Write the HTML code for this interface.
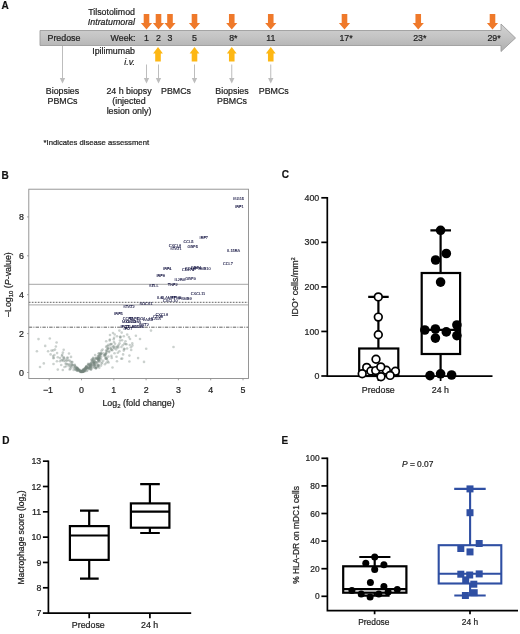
<!DOCTYPE html>
<html lang="en"><head><meta charset="utf-8"><title>Figure</title>
<style>html,body{margin:0;padding:0;background:#fff;}body{width:520px;height:634px;overflow:hidden;}svg{display:block;}text{font-family:"Liberation Sans", Arial, Helvetica, sans-serif;fill:#1f1f1f;stroke:#1f1f1f;stroke-width:0.22px;}.t{font-size:8.85px;}.s{font-size:7.7px;}.b{font-size:10px;font-weight:bold;fill:#111;}.g text{font-size:3.9px;fill:#10103e;text-rendering:geometricPrecision;stroke:#10103e;stroke-width:0.1px;}.m{text-anchor:middle;}.e{text-anchor:end;}.i{font-style:italic;}</style></head><body>
<svg width="520" height="634" viewBox="0 0 520 634">
<defs><linearGradient id="bar" x1="0" y1="0" x2="0" y2="1"><stop offset="0" stop-color="#d3d3d3"/><stop offset="0.5" stop-color="#c3c3c3"/><stop offset="1" stop-color="#adadad"/></linearGradient></defs>
<rect width="520" height="634" fill="#fff"/>
<g id="panelA">
<text class="b" x="1.6" y="9">A</text>
<path d="M40,30.5 H501 V24 L515.5,38 L501,51.5 V45.5 H40 Z" fill="url(#bar)" stroke="#9c9c9c" stroke-width="0.9"/>
<text class="t e" x="135" y="14.5">Tilsotolimod</text>
<text class="t e i" x="135" y="25">Intratumoral</text>
<text class="t" x="47.5" y="40.7">Predose</text>
<text class="t e" x="135.5" y="40.7">Week:</text>
<text class="t e" x="135" y="54.3">Ipilimumab</text>
<text class="t e i" x="135" y="64.5">i.v.</text>
<text class="t m" x="146.5" y="40.7">1</text>
<text class="t m" x="158.5" y="40.7">2</text>
<text class="t m" x="170" y="40.7">3</text>
<text class="t m" x="194.5" y="40.7">5</text>
<text class="t m" x="233.35" y="40.7">8*</text>
<text class="t m" x="270.75" y="40.7">11</text>
<text class="t m" x="346.1" y="40.7">17*</text>
<text class="t m" x="419.85" y="40.7">23*</text>
<text class="t m" x="494.1" y="40.7">29*</text>
<path d="M143.7,13.9 h5.6 v9 h2.8 l-5.6,6.7 l-5.6,-6.7 h2.8 z" fill="#ef792a"/>
<path d="M155.7,13.9 h5.6 v9 h2.8 l-5.6,6.7 l-5.6,-6.7 h2.8 z" fill="#ef792a"/>
<path d="M167.2,13.9 h5.6 v9 h2.8 l-5.6,6.7 l-5.6,-6.7 h2.8 z" fill="#ef792a"/>
<path d="M191.7,13.9 h5.6 v9 h2.8 l-5.6,6.7 l-5.6,-6.7 h2.8 z" fill="#ef792a"/>
<path d="M228.95,13.9 h5.6 v9 h2.8 l-5.6,6.7 l-5.6,-6.7 h2.8 z" fill="#ef792a"/>
<path d="M267.95,13.9 h5.6 v9 h2.8 l-5.6,6.7 l-5.6,-6.7 h2.8 z" fill="#ef792a"/>
<path d="M341.7,13.9 h5.6 v9 h2.8 l-5.6,6.7 l-5.6,-6.7 h2.8 z" fill="#ef792a"/>
<path d="M415.45,13.9 h5.6 v9 h2.8 l-5.6,6.7 l-5.6,-6.7 h2.8 z" fill="#ef792a"/>
<path d="M489.7,13.9 h5.6 v9 h2.8 l-5.6,6.7 l-5.6,-6.7 h2.8 z" fill="#ef792a"/>
<path d="M158,47 l4.9,6.4 h-2.1 v8 h-5.6 v-8 h-2.1 z" fill="#fdb714"/>
<path d="M194.5,47 l4.9,6.4 h-2.1 v8 h-5.6 v-8 h-2.1 z" fill="#fdb714"/>
<path d="M231.75,47 l4.9,6.4 h-2.1 v8 h-5.6 v-8 h-2.1 z" fill="#fdb714"/>
<path d="M270.75,47 l4.9,6.4 h-2.1 v8 h-5.6 v-8 h-2.1 z" fill="#fdb714"/>
<path d="M62.5,46 V80.5" stroke="#bdbdbd" stroke-width="1" fill="none"/>
<path d="M62.5,83.5 l2.7,-5.5 h-5.4 z" fill="#bdbdbd"/>
<path d="M146.5,64.5 V80.5" stroke="#bdbdbd" stroke-width="1" fill="none"/>
<path d="M146.5,83.5 l2.7,-5.5 h-5.4 z" fill="#bdbdbd"/>
<path d="M158.5,64.5 V80.5" stroke="#bdbdbd" stroke-width="1" fill="none"/>
<path d="M158.5,83.5 l2.7,-5.5 h-5.4 z" fill="#bdbdbd"/>
<path d="M194.5,64.5 V80.5" stroke="#bdbdbd" stroke-width="1" fill="none"/>
<path d="M194.5,83.5 l2.7,-5.5 h-5.4 z" fill="#bdbdbd"/>
<path d="M231.75,64.5 V80.5" stroke="#bdbdbd" stroke-width="1" fill="none"/>
<path d="M231.75,83.5 l2.7,-5.5 h-5.4 z" fill="#bdbdbd"/>
<path d="M270.75,64.5 V80.5" stroke="#bdbdbd" stroke-width="1" fill="none"/>
<path d="M270.75,83.5 l2.7,-5.5 h-5.4 z" fill="#bdbdbd"/>
<text class="t m" x="62.5" y="93.8">Biopsies</text>
<text class="t m" x="62.5" y="103.8">PBMCs</text>
<text class="t m" x="129" y="93.8">24 h biopsy</text>
<text class="t m" x="129" y="103.8">(injected</text>
<text class="t m" x="129" y="113.8">lesion only)</text>
<text class="t m" x="176" y="93.8">PBMCs</text>
<text class="t m" x="232" y="93.8">Biopsies</text>
<text class="t m" x="232" y="103.8">PBMCs</text>
<text class="t m" x="273.75" y="93.8">PBMCs</text>
<text class="s" x="43.5" y="144.5">*Indicates disease assessment</text>
</g>
<g id="panelB">
<text class="b" x="1.5" y="178.8">B</text>
<g fill="#75857f" fill-opacity="0.38">
<circle cx="70.2" cy="364.1" r="1.3"/>
<circle cx="111.4" cy="349.4" r="1.3"/>
<circle cx="110.6" cy="344.6" r="1.3"/>
<circle cx="86.5" cy="366.6" r="1.3"/>
<circle cx="99.3" cy="367.8" r="1.3"/>
<circle cx="112.3" cy="350.3" r="1.3"/>
<circle cx="61.9" cy="355.9" r="1.3"/>
<circle cx="66.5" cy="363.7" r="1.3"/>
<circle cx="83.8" cy="371.2" r="1.3"/>
<circle cx="89.5" cy="366.5" r="1.3"/>
<circle cx="106.5" cy="358.6" r="1.3"/>
<circle cx="79.2" cy="370.1" r="1.3"/>
<circle cx="97.0" cy="362.9" r="1.3"/>
<circle cx="94.8" cy="360.1" r="1.3"/>
<circle cx="131.0" cy="347.3" r="1.3"/>
<circle cx="107.7" cy="348.6" r="1.3"/>
<circle cx="105.3" cy="358.4" r="1.3"/>
<circle cx="113.7" cy="339.2" r="1.3"/>
<circle cx="91.5" cy="363.6" r="1.3"/>
<circle cx="132.3" cy="343.4" r="1.3"/>
<circle cx="75.1" cy="369.3" r="1.3"/>
<circle cx="98.3" cy="358.6" r="1.3"/>
<circle cx="99.5" cy="358.2" r="1.3"/>
<circle cx="126.2" cy="328.4" r="1.3"/>
<circle cx="88.0" cy="364.9" r="1.3"/>
<circle cx="99.7" cy="356.4" r="1.3"/>
<circle cx="114.7" cy="334.5" r="1.3"/>
<circle cx="110.6" cy="344.0" r="1.3"/>
<circle cx="111.4" cy="355.9" r="1.3"/>
<circle cx="61.5" cy="360.2" r="1.3"/>
<circle cx="108.4" cy="356.6" r="1.3"/>
<circle cx="102.2" cy="362.5" r="1.3"/>
<circle cx="68.1" cy="360.3" r="1.3"/>
<circle cx="98.2" cy="365.9" r="1.3"/>
<circle cx="91.5" cy="360.1" r="1.3"/>
<circle cx="90.7" cy="363.2" r="1.3"/>
<circle cx="94.5" cy="358.6" r="1.3"/>
<circle cx="86.1" cy="366.5" r="1.3"/>
<circle cx="74.8" cy="364.9" r="1.3"/>
<circle cx="65.7" cy="359.5" r="1.3"/>
<circle cx="77.9" cy="369.1" r="1.3"/>
<circle cx="106.1" cy="346.9" r="1.3"/>
<circle cx="86.0" cy="368.3" r="1.3"/>
<circle cx="120.1" cy="336.8" r="1.3"/>
<circle cx="91.6" cy="366.7" r="1.3"/>
<circle cx="71.8" cy="362.1" r="1.3"/>
<circle cx="90.2" cy="365.0" r="1.3"/>
<circle cx="96.4" cy="358.7" r="1.3"/>
<circle cx="98.9" cy="357.7" r="1.3"/>
<circle cx="102.6" cy="349.6" r="1.3"/>
<circle cx="78.2" cy="369.9" r="1.3"/>
<circle cx="100.8" cy="353.0" r="1.3"/>
<circle cx="53.4" cy="358.2" r="1.3"/>
<circle cx="98.6" cy="359.5" r="1.3"/>
<circle cx="76.9" cy="368.0" r="1.3"/>
<circle cx="91.2" cy="369.3" r="1.3"/>
<circle cx="83.1" cy="370.1" r="1.3"/>
<circle cx="95.8" cy="368.4" r="1.3"/>
<circle cx="104.9" cy="364.3" r="1.3"/>
<circle cx="76.5" cy="367.7" r="1.3"/>
<circle cx="53.7" cy="357.6" r="1.3"/>
<circle cx="94.6" cy="365.8" r="1.3"/>
<circle cx="86.1" cy="368.4" r="1.3"/>
<circle cx="69.6" cy="360.6" r="1.3"/>
<circle cx="93.1" cy="362.1" r="1.3"/>
<circle cx="98.9" cy="353.5" r="1.3"/>
<circle cx="74.5" cy="365.3" r="1.3"/>
<circle cx="103.2" cy="360.8" r="1.3"/>
<circle cx="83.3" cy="369.7" r="1.3"/>
<circle cx="95.1" cy="355.1" r="1.3"/>
<circle cx="62.9" cy="352.6" r="1.3"/>
<circle cx="103.9" cy="355.6" r="1.3"/>
<circle cx="80.2" cy="372.0" r="1.3"/>
<circle cx="83.0" cy="371.1" r="1.3"/>
<circle cx="120.3" cy="337.7" r="1.3"/>
<circle cx="99.9" cy="358.2" r="1.3"/>
<circle cx="93.8" cy="363.1" r="1.3"/>
<circle cx="82.1" cy="371.0" r="1.3"/>
<circle cx="98.3" cy="360.6" r="1.3"/>
<circle cx="92.1" cy="361.2" r="1.3"/>
<circle cx="84.5" cy="370.2" r="1.3"/>
<circle cx="84.1" cy="370.9" r="1.3"/>
<circle cx="84.6" cy="368.8" r="1.3"/>
<circle cx="81.5" cy="371.8" r="1.3"/>
<circle cx="84.3" cy="369.3" r="1.3"/>
<circle cx="93.2" cy="359.8" r="1.3"/>
<circle cx="113.6" cy="346.2" r="1.3"/>
<circle cx="84.5" cy="371.5" r="1.3"/>
<circle cx="97.8" cy="361.8" r="1.3"/>
<circle cx="111.5" cy="349.9" r="1.3"/>
<circle cx="87.9" cy="367.6" r="1.3"/>
<circle cx="77.3" cy="370.0" r="1.3"/>
<circle cx="93.8" cy="362.3" r="1.3"/>
<circle cx="99.8" cy="361.6" r="1.3"/>
<circle cx="86.4" cy="368.2" r="1.3"/>
<circle cx="82.9" cy="371.2" r="1.3"/>
<circle cx="94.5" cy="363.4" r="1.3"/>
<circle cx="80.7" cy="371.3" r="1.3"/>
<circle cx="89.0" cy="364.2" r="1.3"/>
<circle cx="86.5" cy="366.9" r="1.3"/>
<circle cx="117.0" cy="361.3" r="1.3"/>
<circle cx="71.4" cy="367.5" r="1.3"/>
<circle cx="91.9" cy="359.4" r="1.3"/>
<circle cx="109.9" cy="339.5" r="1.3"/>
<circle cx="93.8" cy="363.0" r="1.3"/>
<circle cx="86.5" cy="370.9" r="1.3"/>
<circle cx="94.4" cy="363.4" r="1.3"/>
<circle cx="90.9" cy="369.7" r="1.3"/>
<circle cx="108.4" cy="344.8" r="1.3"/>
<circle cx="77.8" cy="369.2" r="1.3"/>
<circle cx="114.1" cy="337.8" r="1.3"/>
<circle cx="87.1" cy="367.5" r="1.3"/>
<circle cx="111.8" cy="344.0" r="1.3"/>
<circle cx="89.4" cy="368.9" r="1.3"/>
<circle cx="122.8" cy="345.2" r="1.3"/>
<circle cx="72.4" cy="362.1" r="1.3"/>
<circle cx="76.6" cy="368.0" r="1.3"/>
<circle cx="85.0" cy="369.3" r="1.3"/>
<circle cx="64.5" cy="367.0" r="1.3"/>
<circle cx="72.2" cy="365.8" r="1.3"/>
<circle cx="90.9" cy="368.6" r="1.3"/>
<circle cx="119.5" cy="343.4" r="1.3"/>
<circle cx="84.1" cy="370.3" r="1.3"/>
<circle cx="82.6" cy="370.0" r="1.3"/>
<circle cx="105.4" cy="354.9" r="1.3"/>
<circle cx="84.1" cy="370.6" r="1.3"/>
<circle cx="68.6" cy="364.7" r="1.3"/>
<circle cx="77.5" cy="368.3" r="1.3"/>
<circle cx="87.3" cy="370.5" r="1.3"/>
<circle cx="101.5" cy="350.7" r="1.3"/>
<circle cx="87.9" cy="365.2" r="1.3"/>
<circle cx="116.2" cy="346.7" r="1.3"/>
<circle cx="98.7" cy="353.6" r="1.3"/>
<circle cx="85.2" cy="368.2" r="1.3"/>
<circle cx="82.2" cy="371.8" r="1.3"/>
<circle cx="89.3" cy="368.8" r="1.3"/>
<circle cx="67.8" cy="364.2" r="1.3"/>
<circle cx="74.8" cy="367.1" r="1.3"/>
<circle cx="123.9" cy="348.9" r="1.3"/>
<circle cx="111.1" cy="347.5" r="1.3"/>
<circle cx="80.6" cy="371.4" r="1.3"/>
<circle cx="70.7" cy="366.4" r="1.3"/>
<circle cx="88.2" cy="363.7" r="1.3"/>
<circle cx="92.9" cy="364.5" r="1.3"/>
<circle cx="83.1" cy="371.7" r="1.3"/>
<circle cx="106.6" cy="351.4" r="1.3"/>
<circle cx="121.4" cy="347.0" r="1.3"/>
<circle cx="127.2" cy="334.6" r="1.3"/>
<circle cx="89.1" cy="367.7" r="1.3"/>
<circle cx="93.1" cy="357.8" r="1.3"/>
<circle cx="79.6" cy="369.7" r="1.3"/>
<circle cx="117.0" cy="336.2" r="1.3"/>
<circle cx="90.8" cy="365.5" r="1.3"/>
<circle cx="76.7" cy="370.5" r="1.3"/>
<circle cx="106.2" cy="350.3" r="1.3"/>
<circle cx="86.3" cy="367.9" r="1.3"/>
<circle cx="83.1" cy="371.0" r="1.3"/>
<circle cx="118.0" cy="346.2" r="1.3"/>
<circle cx="92.0" cy="364.9" r="1.3"/>
<circle cx="116.2" cy="349.4" r="1.3"/>
<circle cx="78.8" cy="370.2" r="1.3"/>
<circle cx="94.3" cy="361.9" r="1.3"/>
<circle cx="99.7" cy="355.5" r="1.3"/>
<circle cx="98.1" cy="359.5" r="1.3"/>
<circle cx="108.6" cy="362.5" r="1.3"/>
<circle cx="106.4" cy="362.7" r="1.3"/>
<circle cx="108.0" cy="348.4" r="1.3"/>
<circle cx="81.5" cy="372.1" r="1.3"/>
<circle cx="63.5" cy="360.9" r="1.3"/>
<circle cx="109.2" cy="351.2" r="1.3"/>
<circle cx="83.8" cy="369.9" r="1.3"/>
<circle cx="97.9" cy="356.1" r="1.3"/>
<circle cx="103.3" cy="353.4" r="1.3"/>
<circle cx="65.3" cy="361.2" r="1.3"/>
<circle cx="80.8" cy="371.4" r="1.3"/>
<circle cx="117.0" cy="347.5" r="1.3"/>
<circle cx="110.2" cy="348.5" r="1.3"/>
<circle cx="105.2" cy="354.3" r="1.3"/>
<circle cx="117.8" cy="352.7" r="1.3"/>
<circle cx="90.1" cy="366.8" r="1.3"/>
<circle cx="120.6" cy="336.7" r="1.3"/>
<circle cx="104.9" cy="355.4" r="1.3"/>
<circle cx="118.3" cy="347.5" r="1.3"/>
<circle cx="77.3" cy="368.6" r="1.3"/>
<circle cx="98.8" cy="360.2" r="1.3"/>
<circle cx="84.9" cy="368.0" r="1.3"/>
<circle cx="101.4" cy="353.6" r="1.3"/>
<circle cx="97.2" cy="364.8" r="1.3"/>
<circle cx="98.1" cy="358.7" r="1.3"/>
<circle cx="53.2" cy="350.4" r="1.3"/>
<circle cx="121.7" cy="332.6" r="1.3"/>
<circle cx="98.0" cy="365.5" r="1.3"/>
<circle cx="71.7" cy="364.7" r="1.3"/>
<circle cx="95.7" cy="362.3" r="1.3"/>
<circle cx="93.5" cy="366.0" r="1.3"/>
<circle cx="108.5" cy="346.1" r="1.3"/>
<circle cx="107.8" cy="348.8" r="1.3"/>
<circle cx="125.5" cy="341.2" r="1.3"/>
<circle cx="97.0" cy="359.0" r="1.3"/>
<circle cx="89.1" cy="367.6" r="1.3"/>
<circle cx="132.4" cy="345.6" r="1.3"/>
<circle cx="79.0" cy="370.2" r="1.3"/>
<circle cx="84.0" cy="369.8" r="1.3"/>
<circle cx="87.6" cy="368.2" r="1.3"/>
<circle cx="105.6" cy="357.1" r="1.3"/>
<circle cx="107.8" cy="361.4" r="1.3"/>
<circle cx="94.6" cy="361.4" r="1.3"/>
<circle cx="116.5" cy="356.8" r="1.3"/>
<circle cx="91.1" cy="364.9" r="1.3"/>
<circle cx="86.4" cy="367.3" r="1.3"/>
<circle cx="96.5" cy="367.8" r="1.3"/>
<circle cx="101.1" cy="353.7" r="1.3"/>
<circle cx="107.1" cy="350.7" r="1.3"/>
<circle cx="99.1" cy="355.7" r="1.3"/>
<circle cx="98.3" cy="356.4" r="1.3"/>
<circle cx="77.5" cy="368.9" r="1.3"/>
<circle cx="105.8" cy="354.1" r="1.3"/>
<circle cx="127.1" cy="348.5" r="1.3"/>
<circle cx="97.4" cy="358.6" r="1.3"/>
<circle cx="72.0" cy="364.3" r="1.3"/>
<circle cx="82.9" cy="369.9" r="1.3"/>
<circle cx="63.6" cy="357.3" r="1.3"/>
<circle cx="106.9" cy="346.0" r="1.3"/>
<circle cx="106.9" cy="359.3" r="1.3"/>
<circle cx="81.2" cy="371.7" r="1.3"/>
<circle cx="73.6" cy="369.9" r="1.3"/>
<circle cx="124.3" cy="343.6" r="1.3"/>
<circle cx="84.2" cy="370.4" r="1.3"/>
<circle cx="82.5" cy="372.0" r="1.3"/>
<circle cx="80.8" cy="371.3" r="1.3"/>
<circle cx="90.8" cy="364.5" r="1.3"/>
<circle cx="63.7" cy="349.8" r="1.3"/>
<circle cx="63.7" cy="358.7" r="1.3"/>
<circle cx="75.3" cy="366.5" r="1.3"/>
<circle cx="101.0" cy="365.6" r="1.3"/>
<circle cx="57.1" cy="353.1" r="1.3"/>
<circle cx="75.6" cy="369.8" r="1.3"/>
<circle cx="99.1" cy="359.7" r="1.3"/>
<circle cx="95.1" cy="364.7" r="1.3"/>
<circle cx="101.6" cy="363.6" r="1.3"/>
<circle cx="67.9" cy="357.7" r="1.3"/>
<circle cx="100.4" cy="354.2" r="1.3"/>
<circle cx="113.7" cy="347.7" r="1.3"/>
<circle cx="88.4" cy="368.3" r="1.3"/>
<circle cx="85.6" cy="368.4" r="1.3"/>
<circle cx="77.1" cy="370.7" r="1.3"/>
<circle cx="118.5" cy="345.0" r="1.3"/>
<circle cx="124.6" cy="349.0" r="1.3"/>
<circle cx="78.7" cy="369.6" r="1.3"/>
<circle cx="95.1" cy="365.2" r="1.3"/>
<circle cx="86.7" cy="367.7" r="1.3"/>
<circle cx="126.5" cy="344.2" r="1.3"/>
<circle cx="111.7" cy="357.9" r="1.3"/>
<circle cx="76.5" cy="369.1" r="1.3"/>
<circle cx="90.0" cy="367.5" r="1.3"/>
<circle cx="92.4" cy="361.8" r="1.3"/>
<circle cx="73.1" cy="365.1" r="1.3"/>
<circle cx="89.6" cy="365.1" r="1.3"/>
<circle cx="94.5" cy="367.8" r="1.3"/>
<circle cx="81.0" cy="371.5" r="1.3"/>
<circle cx="94.2" cy="365.2" r="1.3"/>
<circle cx="93.9" cy="364.0" r="1.3"/>
<circle cx="106.5" cy="352.9" r="1.3"/>
<circle cx="77.1" cy="367.6" r="1.3"/>
<circle cx="86.1" cy="366.9" r="1.3"/>
<circle cx="113.4" cy="346.5" r="1.3"/>
<circle cx="89.4" cy="364.4" r="1.3"/>
<circle cx="90.7" cy="367.0" r="1.3"/>
<circle cx="105.8" cy="353.0" r="1.3"/>
<circle cx="69.5" cy="366.4" r="1.3"/>
<circle cx="90.2" cy="365.9" r="1.3"/>
<circle cx="92.0" cy="367.8" r="1.3"/>
<circle cx="77.6" cy="368.8" r="1.3"/>
<circle cx="96.1" cy="367.4" r="1.3"/>
<circle cx="106.6" cy="357.8" r="1.3"/>
<circle cx="84.7" cy="370.9" r="1.3"/>
<circle cx="96.5" cy="357.8" r="1.3"/>
<circle cx="82.9" cy="371.2" r="1.3"/>
<circle cx="93.1" cy="358.5" r="1.3"/>
<circle cx="97.8" cy="366.8" r="1.3"/>
<circle cx="135.9" cy="335.8" r="1.3"/>
<circle cx="98.3" cy="357.5" r="1.3"/>
<circle cx="99.0" cy="361.2" r="1.3"/>
<circle cx="96.0" cy="362.4" r="1.3"/>
<circle cx="98.8" cy="365.9" r="1.3"/>
<circle cx="75.6" cy="366.9" r="1.3"/>
<circle cx="100.2" cy="353.6" r="1.3"/>
<circle cx="125.6" cy="344.0" r="1.3"/>
<circle cx="114.4" cy="348.4" r="1.3"/>
<circle cx="82.3" cy="371.2" r="1.3"/>
<circle cx="94.4" cy="367.3" r="1.3"/>
<circle cx="83.0" cy="371.5" r="1.3"/>
<circle cx="92.7" cy="360.0" r="1.3"/>
<circle cx="85.5" cy="370.1" r="1.3"/>
<circle cx="100.6" cy="355.4" r="1.3"/>
<circle cx="90.4" cy="366.5" r="1.3"/>
<circle cx="114.0" cy="342.0" r="1.3"/>
<circle cx="83.1" cy="371.6" r="1.3"/>
<circle cx="96.0" cy="368.1" r="1.3"/>
<circle cx="82.1" cy="371.5" r="1.3"/>
<circle cx="84.9" cy="369.1" r="1.3"/>
<circle cx="93.9" cy="361.3" r="1.3"/>
<circle cx="76.1" cy="369.2" r="1.3"/>
<circle cx="122.2" cy="358.6" r="1.3"/>
<circle cx="91.1" cy="362.8" r="1.3"/>
<circle cx="86.1" cy="367.4" r="1.3"/>
<circle cx="109.7" cy="340.4" r="1.3"/>
<circle cx="80.1" cy="371.3" r="1.3"/>
<circle cx="104.7" cy="355.0" r="1.3"/>
<circle cx="86.4" cy="368.6" r="1.3"/>
<circle cx="98.7" cy="364.7" r="1.3"/>
<circle cx="122.1" cy="340.3" r="1.3"/>
<circle cx="70.4" cy="368.9" r="1.3"/>
<circle cx="109.1" cy="352.1" r="1.3"/>
<circle cx="73.9" cy="367.8" r="1.3"/>
<circle cx="101.2" cy="357.1" r="1.3"/>
<circle cx="128.9" cy="337.1" r="1.3"/>
<circle cx="64.0" cy="357.7" r="1.3"/>
<circle cx="79.1" cy="370.0" r="1.3"/>
<circle cx="96.0" cy="358.0" r="1.3"/>
<circle cx="78.2" cy="370.9" r="1.3"/>
<circle cx="101.0" cy="359.5" r="1.3"/>
<circle cx="114.5" cy="353.3" r="1.3"/>
<circle cx="106.2" cy="358.8" r="1.3"/>
<circle cx="66.9" cy="360.6" r="1.3"/>
<circle cx="62.5" cy="360.1" r="1.3"/>
<circle cx="70.7" cy="361.8" r="1.3"/>
<circle cx="80.5" cy="370.6" r="1.3"/>
<circle cx="98.9" cy="358.2" r="1.3"/>
<circle cx="79.8" cy="370.8" r="1.3"/>
<circle cx="38.5" cy="339.1" r="1.3"/>
<circle cx="49.8" cy="338.5" r="1.3"/>
<circle cx="56.6" cy="342.5" r="1.3"/>
<circle cx="45.2" cy="345.9" r="1.3"/>
<circle cx="55.9" cy="346.5" r="1.3"/>
<circle cx="36.9" cy="351.2" r="1.3"/>
<circle cx="48.1" cy="351.2" r="1.3"/>
<circle cx="51.5" cy="350.6" r="1.3"/>
<circle cx="55.0" cy="349.6" r="1.3"/>
<circle cx="50.6" cy="354.4" r="1.3"/>
<circle cx="53.1" cy="356.0" r="1.3"/>
<circle cx="54.4" cy="355.0" r="1.3"/>
<circle cx="69.0" cy="353.5" r="1.3"/>
<circle cx="62.2" cy="354.8" r="1.3"/>
<circle cx="67.1" cy="357.8" r="1.3"/>
<circle cx="71.0" cy="356.9" r="1.3"/>
<circle cx="57.8" cy="357.2" r="1.3"/>
<circle cx="60.0" cy="358.1" r="1.3"/>
<circle cx="43.8" cy="363.4" r="1.3"/>
<circle cx="53.5" cy="364.0" r="1.3"/>
<circle cx="56.9" cy="361.2" r="1.3"/>
<circle cx="60.0" cy="361.2" r="1.3"/>
<circle cx="61.2" cy="365.0" r="1.3"/>
<circle cx="57.8" cy="369.6" r="1.3"/>
<circle cx="62.8" cy="370.0" r="1.3"/>
<circle cx="65.6" cy="363.8" r="1.3"/>
<circle cx="66.2" cy="366.2" r="1.3"/>
<circle cx="69.6" cy="369.4" r="1.3"/>
<circle cx="130.0" cy="339.0" r="1.3"/>
<circle cx="140.0" cy="339.0" r="1.3"/>
<circle cx="129.8" cy="345.0" r="1.3"/>
<circle cx="146.2" cy="348.8" r="1.3"/>
<circle cx="131.2" cy="350.0" r="1.3"/>
<circle cx="123.8" cy="350.6" r="1.3"/>
<circle cx="119.4" cy="351.2" r="1.3"/>
<circle cx="123.1" cy="354.4" r="1.3"/>
<circle cx="129.4" cy="355.6" r="1.3"/>
<circle cx="138.1" cy="358.1" r="1.3"/>
<circle cx="121.2" cy="358.8" r="1.3"/>
<circle cx="129.4" cy="361.5" r="1.3"/>
<circle cx="144.0" cy="361.9" r="1.3"/>
<circle cx="112.5" cy="367.5" r="1.3"/>
<circle cx="151.0" cy="330.6" r="1.3"/>
<circle cx="119.4" cy="330.6" r="1.3"/>
<circle cx="123.8" cy="336.2" r="1.3"/>
<circle cx="120.0" cy="340.6" r="1.3"/>
<circle cx="113.0" cy="333.0" r="1.3"/>
<circle cx="110.0" cy="335.0" r="1.3"/>
<circle cx="106.2" cy="341.2" r="1.3"/>
<circle cx="115.0" cy="343.8" r="1.3"/>
<circle cx="173.5" cy="347.0" r="1.3"/>
<circle cx="40.0" cy="367.0" r="1.3"/>
</g>
<path d="M28.8,284.3 H248.5 M28.8,304.9 H248.5" stroke="#a6a6a6" stroke-width="1" fill="none"/>
<path d="M28.8,302.3 H248.5" stroke="#3a3a3a" stroke-width="0.8" stroke-dasharray="1.7 1.3" fill="none"/>
<path d="M28.8,327.2 H248.5" stroke="#3a3a3a" stroke-width="0.8" stroke-dasharray="3.4 1.2 1 1.2" fill="none"/>
<rect x="28.8" y="189.2" width="219.7" height="189.3" fill="none" stroke="#8c8c8c" stroke-width="0.9"/>
<path d="M28.8,372.5 h-1.8" stroke="#8c8c8c" stroke-width="0.8"/>
<text class="t e" x="24" y="375.5">0</text>
<path d="M28.8,333.6 h-1.8" stroke="#8c8c8c" stroke-width="0.8"/>
<text class="t e" x="24" y="336.6">2</text>
<path d="M28.8,294.7 h-1.8" stroke="#8c8c8c" stroke-width="0.8"/>
<text class="t e" x="24" y="297.7">4</text>
<path d="M28.8,255.8 h-1.8" stroke="#8c8c8c" stroke-width="0.8"/>
<text class="t e" x="24" y="258.8">6</text>
<path d="M28.8,216.9 h-1.8" stroke="#8c8c8c" stroke-width="0.8"/>
<text class="t e" x="24" y="219.9">8</text>
<path d="M49.2,378.5 v1.8" stroke="#8c8c8c" stroke-width="0.8"/>
<text class="t m" x="48" y="393.3">−1</text>
<path d="M81.5,378.5 v1.8" stroke="#8c8c8c" stroke-width="0.8"/>
<text class="t m" x="81.5" y="393.3">0</text>
<path d="M113.8,378.5 v1.8" stroke="#8c8c8c" stroke-width="0.8"/>
<text class="t m" x="113.8" y="393.3">1</text>
<path d="M146.1,378.5 v1.8" stroke="#8c8c8c" stroke-width="0.8"/>
<text class="t m" x="146.1" y="393.3">2</text>
<path d="M178.4,378.5 v1.8" stroke="#8c8c8c" stroke-width="0.8"/>
<text class="t m" x="178.4" y="393.3">3</text>
<path d="M210.7,378.5 v1.8" stroke="#8c8c8c" stroke-width="0.8"/>
<text class="t m" x="210.7" y="393.3">4</text>
<path d="M243,378.5 v1.8" stroke="#8c8c8c" stroke-width="0.8"/>
<text class="t m" x="243" y="393.3">5</text>
<text class="t m" transform="translate(11.3,284.6) rotate(-90)">–Log<tspan font-size="6" dy="1.6">10</tspan><tspan dy="-1.6"> (</tspan><tspan class="i">P</tspan>-value)</text>
<text class="t m" x="138.5" y="406.4">Log<tspan font-size="6" dy="1.6">2</tspan><tspan dy="-1.6"> (fold change)</tspan></text>
<g class="g m">
<text x="238.5" y="199.6">ISG15</text>
<text x="239.4" y="207.6">IRF1</text>
<text x="203.8" y="239">IRF7</text>
<text x="188.5" y="242.8">CCL5</text>
<text x="192.7" y="247.5">GBP5</text>
<text x="175" y="247.2">CXCL9</text>
<text x="176" y="249.6">STAT1</text>
<text x="233.7" y="252">IL15RA</text>
<text x="227.9" y="265.3">CCL7</text>
<text x="167.3" y="269.8">IRF4</text>
<text x="190" y="269.5">CCL8</text>
<text x="196" y="269.2">GBP4</text>
<text x="203" y="269.8">PSMB10</text>
<text x="188" y="270.6">CD274</text>
<text x="160.6" y="277.3">IRF8</text>
<text x="180" y="281.3">IL2RA</text>
<text x="190.5" y="279.6">GBP3</text>
<text x="153.8" y="286.6">SELL</text>
<text x="172.7" y="286.4">TNF2</text>
<text x="198" y="295.4">CXCL11</text>
<text x="160" y="299">IL6</text>
<text x="168" y="298.6">SLAMF7</text>
<text x="177" y="298.8">IFNG</text>
<text x="185" y="299.5">PSMB9</text>
<text x="170.4" y="302.2">CXCL10</text>
<text x="146" y="305.2">SOCS1</text>
<text x="129" y="307.8">STAT2</text>
<text x="118.5" y="314.6">IRF5</text>
<text x="161.8" y="316.2">CXCL9</text>
<text x="128" y="319.5">CCR5</text>
<text x="134" y="320.2">TAP1</text>
<text x="141" y="319.8">IDO1</text>
<text x="148" y="320.6">LAG3</text>
<text x="155" y="319.6">HLA-A</text>
<text x="158" y="318.4">CD38</text>
<text x="126" y="322.6">MX1</text>
<text x="131" y="323.2">OAS3</text>
<text x="136" y="322.8">CD8A</text>
<text x="125" y="327.5">IFIT1</text>
<text x="132" y="328">TLR3</text>
<text x="139" y="327.6">CD86</text>
<text x="144" y="326.4">BST2</text>
<text x="128" y="330">IFI27</text>
</g>
</g>
<g id="panelC">
<text class="b" x="281.8" y="178.3">C</text>
<path d="M327.3,197 V376.1 H492.5" stroke="#000" stroke-width="1.7" fill="none"/>
<path d="M327.3,376 h-6" stroke="#000" stroke-width="1.7"/>
<text class="t e" x="319.3" y="379.1">0</text>
<path d="M327.3,331.45 h-6" stroke="#000" stroke-width="1.7"/>
<text class="t e" x="319.3" y="334.55">100</text>
<path d="M327.3,286.9 h-6" stroke="#000" stroke-width="1.7"/>
<text class="t e" x="319.3" y="290">200</text>
<path d="M327.3,242.35 h-6" stroke="#000" stroke-width="1.7"/>
<text class="t e" x="319.3" y="245.45">300</text>
<path d="M327.3,197.8 h-6" stroke="#000" stroke-width="1.7"/>
<text class="t e" x="319.3" y="200.9">400</text>
<path d="M378.4,376 v5 M440.6,376 v5" stroke="#000" stroke-width="1.7"/>
<text class="t m" transform="translate(297.6,287) rotate(-90)">IDO<tspan font-size="5.8" dy="-3">+</tspan><tspan dy="3"> cells/mm</tspan><tspan font-size="5.8" dy="-3">2</tspan></text>
<text class="t m" x="378.3" y="393.2">Predose</text>
<text class="t m" x="440.4" y="393.2">24 h</text>
<g stroke="#000" stroke-width="2.2" fill="none">
<rect x="359.2" y="348.5" width="39.1" height="27.5"/>
<path d="M378.4,348.5 V297 M368.2,296.9 H388.7"/>
<rect x="421.7" y="273" width="38.4" height="81"/>
<path d="M440.6,273 V230.3 M430.4,230.3 H451 M440.6,354 V376 M421.7,329.8 H460.1"/>
</g>
<g stroke="#000" stroke-width="1.7" fill="#fff">
<circle cx="378.3" cy="296.9" r="3.85"/>
<circle cx="378.3" cy="317.1" r="3.85"/>
<circle cx="378.3" cy="334.8" r="3.85"/>
<circle cx="366.7" cy="367.4" r="3.85"/>
<circle cx="370.9" cy="371" r="3.85"/>
<circle cx="375.7" cy="370.6" r="3.85"/>
<circle cx="386.3" cy="370.3" r="3.85"/>
<circle cx="395.4" cy="371.3" r="3.85"/>
<circle cx="376" cy="359.2" r="3.85"/>
<circle cx="380.8" cy="366.9" r="3.85"/>
<circle cx="362.2" cy="373.8" r="3.85"/>
<circle cx="381" cy="376.7" r="3.85"/>
<circle cx="390.1" cy="375.4" r="3.85"/>
</g>
<g fill="#000">
<circle cx="440.6" cy="230.3" r="4.8"/>
<circle cx="446.3" cy="253.5" r="4.8"/>
<circle cx="435.6" cy="260" r="4.8"/>
<circle cx="440.6" cy="282.1" r="4.8"/>
<circle cx="424.8" cy="330" r="4.8"/>
<circle cx="435.4" cy="329" r="4.8"/>
<circle cx="435.4" cy="338.1" r="4.8"/>
<circle cx="446.3" cy="331.9" r="4.8"/>
<circle cx="456.9" cy="325" r="4.8"/>
<circle cx="456.9" cy="335.6" r="4.8"/>
<circle cx="430" cy="375.6" r="4.8"/>
<circle cx="440.6" cy="373.8" r="4.8"/>
<circle cx="451.6" cy="375" r="4.8"/>
</g>
</g>
<g id="panelD">
<text class="b" x="2.2" y="443.6">D</text>
<path d="M48.4,460.4 V613.1 H191.2" stroke="#000" stroke-width="1.7" fill="none"/>
<path d="M48.4,613.1 h-5.5" stroke="#000" stroke-width="1.7"/>
<text class="t e" x="41.3" y="616.2">7</text>
<path d="M48.4,587.78 h-5.5" stroke="#000" stroke-width="1.7"/>
<text class="t e" x="41.3" y="590.88">8</text>
<path d="M48.4,562.46 h-5.5" stroke="#000" stroke-width="1.7"/>
<text class="t e" x="41.3" y="565.56">9</text>
<path d="M48.4,537.14 h-5.5" stroke="#000" stroke-width="1.7"/>
<text class="t e" x="41.3" y="540.24">10</text>
<path d="M48.4,511.82 h-5.5" stroke="#000" stroke-width="1.7"/>
<text class="t e" x="41.3" y="514.92">11</text>
<path d="M48.4,486.5 h-5.5" stroke="#000" stroke-width="1.7"/>
<text class="t e" x="41.3" y="489.6">12</text>
<path d="M48.4,461.18 h-5.5" stroke="#000" stroke-width="1.7"/>
<text class="t e" x="41.3" y="464.28">13</text>
<path d="M89.2,613 v5.2 M149.9,613 v5.2" stroke="#000" stroke-width="1.7"/>
<text class="t m" style="font-size:8.6px" transform="translate(24.3,537.5) rotate(-90)">Macrophage score (log<tspan font-size="6" dy="1.6">2</tspan><tspan dy="-1.6">)</tspan></text>
<text class="t m" x="88.3" y="627.9">Predose</text>
<text class="t m" x="149.7" y="627.9">24 h</text>
<g stroke="#000" stroke-width="2.2" fill="none">
<rect x="69.9" y="526.1" width="38.8" height="33.8"/>
<path d="M69.9,535.5 H108.7 M89.2,526.1 V510.6 M80,510.6 H98.7 M89.2,559.9 V578.6 M80,578.6 H98.7"/>
<rect x="130.9" y="503.4" width="38.5" height="24.3"/>
<path d="M130.9,511.7 H169.4 M149.9,503.4 V484.2 M140.2,484.2 H159.8 M149.9,527.7 V533 M140.2,533 H159.8"/>
</g>
</g>
<g id="panelE" style="font-size:8.4px">
<text class="b" x="281.6" y="443.8">E</text>
<path d="M327.4,457.5 V610.7 H518" stroke="#000" stroke-width="1.7" fill="none"/>
<path d="M327.4,596.3 h-6" stroke="#000" stroke-width="1.7"/>
<text class="e" x="319.6" y="599.3">0</text>
<path d="M327.4,568.7 h-6" stroke="#000" stroke-width="1.7"/>
<text class="e" x="319.6" y="571.7">20</text>
<path d="M327.4,541.1 h-6" stroke="#000" stroke-width="1.7"/>
<text class="e" x="319.6" y="544.1">40</text>
<path d="M327.4,513.5 h-6" stroke="#000" stroke-width="1.7"/>
<text class="e" x="319.6" y="516.5">60</text>
<path d="M327.4,485.9 h-6" stroke="#000" stroke-width="1.7"/>
<text class="e" x="319.6" y="488.9">80</text>
<path d="M327.4,458.3 h-6" stroke="#000" stroke-width="1.7"/>
<text class="e" x="319.6" y="461.3">100</text>
<path d="M374.6,610.7 v3.6 M470,610.7 v3.6" stroke="#000" stroke-width="1.7"/>
<text class="m" transform="translate(298.6,535) rotate(-90)">% HLA-DR on mDC1 cells</text>
<text class="m" x="373.8" y="625.2">Predose</text>
<text class="m" x="470" y="625.2">24 h</text>
<text class="m" x="417.7" y="467"><tspan class="i">P</tspan> = 0.07</text>
<g stroke="#000" stroke-width="2.2" fill="none">
<rect x="343.2" y="566.3" width="63.2" height="26.4"/>
<path d="M343.2,589.1 H406.4 M374.7,566.3 V557 M359.3,557 H390.4 M374.7,592.7 V595.6 M358.8,595.6 H389.6"/>
</g>
<g fill="#000">
<circle cx="374.7" cy="557" r="3.5"/>
<circle cx="365.8" cy="563.2" r="3.5"/>
<circle cx="383.9" cy="564.7" r="3.5"/>
<circle cx="374.7" cy="569.6" r="3.5"/>
<circle cx="370.4" cy="582.4" r="3.5"/>
<circle cx="383.9" cy="586.5" r="3.5"/>
<circle cx="351.9" cy="590.4" r="3.5"/>
<circle cx="397.3" cy="589.6" r="3.5"/>
<circle cx="361.2" cy="593.9" r="3.5"/>
<circle cx="370.1" cy="597" r="3.5"/>
<circle cx="378.8" cy="593.9" r="3.5"/>
<circle cx="388.1" cy="591.9" r="3.5"/>
</g>
<g stroke="#2f4fa3" stroke-width="2.1" fill="none">
<rect x="438.7" y="545.2" width="62.6" height="38.3"/>
<path d="M438.7,573.8 H501.3 M470.1,545.2 V488.9 M454.2,488.9 H485.7 M470.1,583.5 V595.5 M454.3,595.5 H485.7"/>
</g>
<g fill="#2f4fa3">
<rect x="466.5" y="485.4" width="7" height="7"/>
<rect x="466.5" y="509.2" width="7" height="7"/>
<rect x="475.7" y="540" width="7" height="7"/>
<rect x="457.3" y="545" width="7" height="7"/>
<rect x="466.5" y="548.4" width="7" height="7"/>
<rect x="457.3" y="570.7" width="7" height="7"/>
<rect x="466.2" y="571.5" width="7" height="7"/>
<rect x="475.7" y="570.4" width="7" height="7"/>
<rect x="462.2" y="576.4" width="7" height="7"/>
<rect x="470.3" y="580.7" width="7" height="7"/>
<rect x="470.7" y="589.2" width="7" height="7"/>
<rect x="461.9" y="592" width="7" height="7"/>
</g>
</g>
</svg></body></html>
